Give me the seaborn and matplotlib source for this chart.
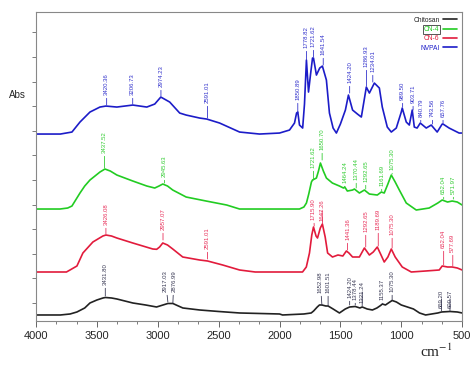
import numpy as np
import pandas as pd
import seaborn as sns
import matplotlib.pyplot as plt
from matplotlib.ticker import MultipleLocator, AutoMinorLocator, NullFormatter

# --- datos: espectros FTIR (absorbancia relativa a la linea base de cada curva) ---
wn_chitosan = [4000, 3800, 3720, 3664, 3600, 3557, 3500, 3450, 3431, 3380, 3336, 3205, 3100, 3010,
               2957, 2917, 2876, 2840, 2794, 2656, 2500, 2328, 2000, 1975, 1800, 1740, 1720, 1690,
               1672, 1652, 1620, 1601, 1560, 1508, 1460, 1424, 1378, 1340, 1321, 1280, 1237, 1200,
               1170, 1155, 1130, 1100, 1075, 1040, 1000, 950, 900, 850, 800, 750, 700, 669, 600, 540, 500]
abs_chitosan = [0, 0, 1, 3, 7, 12, 15, 17, 17.5, 17, 16, 12, 10, 8,
                10, 11.5, 11.5, 9.5, 7, 5, 3.5, 2, 1, 0, 1, 2, 4, 8,
                10, 10, 9, 9, 6, 2, 6, 8, 8.5, 7, 8, 6, 5, 7,
                9.5, 11, 10, 12.5, 14.5, 13, 10, 8, 6, 2, 0, 1, 2, 3, 3.5, 3, 2]

wn_cn4 = [4000, 3803, 3740, 3705, 3639, 3600, 3557, 3475, 3434, 3390, 3336, 3205, 3090, 3025, 2990,
          2959, 2920, 2877, 2767, 2603, 2434, 2328, 1836, 1800, 1779, 1760, 1738, 1729, 1697, 1680,
          1664, 1640, 1615, 1566, 1508, 1475, 1464, 1443, 1400, 1385, 1344, 1303, 1262, 1197, 1164,
          1140, 1110, 1082, 1050, 1016, 959, 877, 771, 700, 664, 620, 582, 540, 500]
abs_cn4 = [0, 0, 1, 3, 16, 23, 29, 37, 40, 38, 34, 28, 23, 21, 23,
           25, 23, 19, 12, 8, 4, 0, 0, 2, 6, 15, 27, 29, 31, 38,
           46, 38, 31, 26, 23, 21, 22, 18, 19, 20, 16, 19, 15, 14, 17,
           16, 25, 34, 27, 19, 6, -1, 1, 6, 9, 7, 8, 7, 4]

wn_cn6 = [4000, 3750, 3721, 3664, 3615, 3533, 3451, 3426, 3380, 3336, 3205, 3041, 3009, 2985, 2959,
          2920, 2877, 2795, 2656, 2591, 2467, 2328, 2200, 1811, 1780, 1754, 1735, 1721, 1700, 1688,
          1665, 1648, 1625, 1605, 1565, 1520, 1480, 1451, 1430, 1400, 1344, 1303, 1262, 1230, 1197,
          1170, 1140, 1110, 1082, 1050, 992, 918, 800, 688, 664, 620, 582, 540, 500]
abs_cn6 = [0, 0, 2, 6, 19, 30, 36, 37, 36, 34, 29, 23, 22.7, 25, 29,
           27, 23, 15, 12, 11, 7, 2, 0, 0, 5, 19, 37, 45, 36, 34,
           44, 48, 35, 19, 15, 17, 16, 21, 19, 15, 15, 24, 17, 20, 25,
           18, 10, 15, 23, 15, 5, 0, 1, 2, 6, 5, 5, 4, 2]

wn_nvpai = [4000, 3800, 3705, 3639, 3557, 3475, 3426, 3336, 3205, 3090, 3025, 2975, 2902, 2820, 2767,
            2656, 2598, 2492, 2328, 2164, 2000, 1918, 1877, 1860, 1850, 1836, 1810, 1795, 1779, 1762,
            1745, 1729, 1721, 1697, 1670, 1648, 1615, 1590, 1560, 1533, 1500, 1459, 1434, 1400, 1360,
            1328, 1287, 1262, 1221, 1180, 1156, 1115, 1082, 1041, 1000, 992, 959, 934, 910, 893,
            870, 844, 795, 754, 705, 664, 657, 607, 525, 500]
abs_nvpai = [0, 0, 2, 12, 22, 27, 28, 27, 29, 27, 30, 37, 32, 21, 19,
             16, 15, 11, 2, 0, 1, 4, 11, 21, 22, 9, 6, 30, 74, 42,
             60, 76, 76, 59, 66, 68, 54, 21, 6, 1, 10, 24, 39, 24, 20,
             17, 47, 41, 51, 46, 27, 7, 2, 6, 22, 26, 12, 9, 24, 7,
             6, 11, 6, 9, 2, 10, 10, 6, 1, 1]

series_names = ['Chitosan', 'CN-4', 'CN-6', 'NVPAI']
offsets = [-12, 94, 31, 169]   # desplazamiento vertical de cada curva

# etiquetas de picos: (texto, numero de onda del texto, numero de onda del pico, y fin de linea, y del texto)
labels_chitosan = [('3431.80', 3431, 3431, 19, 30), ('2917.03', 2936, 2917, 13, 23),
                   ('2876.99', 2868, 2876, 12, 23), ('1652.98', 1665, 1652, 10, 22),
                   ('1601.51', 1601, 1601, 9, 22), ('1424.20', 1424, 1424, 10, 17),
                   ('1378.44', 1378, 1378, 10, 15), ('1321.24', 1321, 1321, 9, 12),
                   ('1155.37', 1155, 1155, 11, 15), ('1075.30', 1075, 1075, 15, 23),
                   ('669.20', 669, 669, 4, 7), ('600.57', 600, 600, 4, 7)]
labels_cn4 = [('3437.52', 3437, 3437, 41, 56), ('2945.63', 2945, 2945, 26, 32),
              ('1721.62', 1721, 1721, 29, 41), ('1650.70', 1650, 1650, 49, 59),
              ('1464.24', 1464, 1464, 21, 26), ('1370.44', 1370, 1370, 21, 29),
              ('1292.65', 1292, 1292, 20, 27), ('1161.69', 1161, 1161, 18, 23),
              ('1075.30', 1075, 1075, 35, 39), ('652.04', 652, 652, 10, 15),
              ('571.97', 572, 572, 10, 15)]
labels_cn6 = [('3426.08', 3426, 3426, 38, 47), ('2957.07', 2957, 2957, 32, 42),
              ('2591.01', 2591, 2591, 13, 23), ('1715.90', 1722, 1715, 46, 52),
              ('1647.26', 1650, 1647, 48, 51), ('1441.36', 1441, 1441, 22, 32),
              ('1292.65', 1292, 1292, 25, 40), ('1189.69', 1189, 1189, 26, 42),
              ('1075.30', 1075, 1075, 24, 37), ('652.04', 652, 652, 7, 24),
              ('577.69', 577, 577, 6, 20)]
labels_nvpai = [('3420.36', 3420, 3420, 29, 39), ('3206.73', 3206, 3206, 30, 39),
                ('2974.23', 2974, 2974, 38, 47), ('2591.01', 2591, 2591, 16, 31),
                ('1850.89', 1850, 1850, 22, 34), ('1778.82', 1779, 1779, 74, 86),
                ('1721.62', 1721, 1721, 77, 87), ('1641.54', 1641, 1641, 69, 79),
                ('1424.20', 1424, 1424, 41, 51), ('1286.93', 1286, 1286, 48, 67),
                ('1234.01', 1234, 1234, 52, 62), ('989.50', 989, 989, 27, 34),
                ('903.71', 903, 903, 24, 31), ('840.79', 840, 840, 12, 17),
                ('743.56', 743, 743, 10, 17), ('657.76', 657, 657, 11, 17)]

x_ticks = [4000, 3500, 3000, 2500, 2000, 1500, 1000, 500]

line_colors = ['#222222', '#22cc22', '#e21b3c', '#1c1cc8']
text_colors = ['#3a3a55', '#33cc33', '#e8305a', '#3333cc']

# --- armado del DataFrame ---
frames = []
for name, wn, ab, off in zip(series_names,
                             [wn_chitosan, wn_cn4, wn_cn6, wn_nvpai],
                             [abs_chitosan, abs_cn4, abs_cn6, abs_nvpai], offsets):
    frames.append(pd.DataFrame({'wn': wn, 'abs': np.array(ab) + off, 'muestra': name}))
df = pd.concat(frames, ignore_index=True)

sns.set_style('ticks')
plt.rcParams['font.family'] = ['Liberation Sans', 'DejaVu Sans']

fig = plt.figure(figsize=(4.74, 3.66), dpi=100)
ax = fig.add_axes([0.076, 0.123, 0.899, 0.844])

sns.lineplot(data=df, x='wn', y='abs', hue='muestra', hue_order=series_names,
             palette=line_colors, estimator=None, linewidth=1.2, ax=ax, legend=True)

# --- etiquetas de picos ---
for labs, off, col in zip([labels_chitosan, labels_cn4, labels_cn6, labels_nvpai],
                          offsets, text_colors):
    for txt, xt, xp, yl, yt in labs:
        ax.annotate(txt, xy=(xp, yl + off), xytext=(xt, yt + off), rotation=90,
                    ha='center', va='bottom', fontsize=4.3, color=col,
                    arrowprops=dict(arrowstyle='-', color=col, lw=0.6,
                                    shrinkA=0, shrinkB=0))

# --- ejes ---
ax.set_xlim(4000, 500)
ax.set_ylim(-18, 291)
ax.set_xticks(x_ticks)
ax.xaxis.set_minor_locator(AutoMinorLocator(3))
ax.yaxis.set_major_locator(MultipleLocator(24.6))
ax.yaxis.set_major_formatter(NullFormatter())
ax.tick_params(axis='x', which='major', direction='out', length=4, width=0.7,
               color='#666666', labelsize=8, pad=3)
ax.tick_params(axis='x', which='minor', direction='out', length=2.5, width=0.6, color='#666666')
ax.tick_params(axis='y', direction='out', length=3, width=0.6, color='#666666')
for sp in ax.spines.values():
    sp.set_visible(True)
    sp.set_color('#888888')
    sp.set_linewidth(0.8)
ax.set_xlabel('')
ax.set_ylabel('')

fig.text(0.02, 0.74, 'Abs', fontsize=7, ha='left', va='center')
fig.text(0.92, 0.04, 'cm$^{-1}$', fontsize=11, ha='center', va='center',
         family='Liberation Serif', math_fontfamily='stix')

# --- leyenda ---
handles, labs = ax.get_legend_handles_labels()
leg = ax.legend(handles, labs, loc='upper right', markerfirst=False, frameon=False,
                fontsize=4.8, handlelength=2.2, labelspacing=0.35, handletextpad=0.5,
                borderaxespad=0.3)
for t, col in zip(leg.get_texts(), line_colors):
    t.set_color(col)
leg.get_texts()[1].set_bbox(dict(facecolor='none', edgecolor='#555555', lw=0.7,
                                 boxstyle='square,pad=0.15'))

plt.savefig('out.png', dpi=100)
